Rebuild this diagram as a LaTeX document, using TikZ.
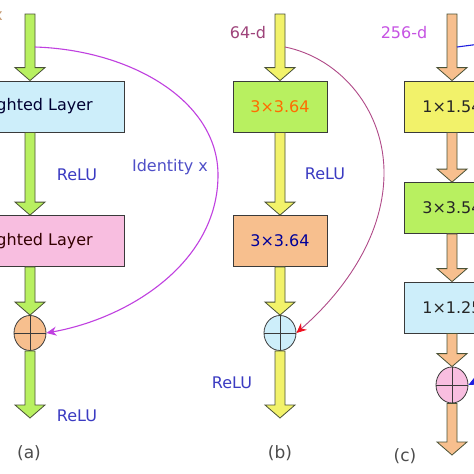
\documentclass[tikz,border=0pt]{standalone}
\usepackage{fontspec}
\setmainfont{DejaVu Sans}
\usetikzlibrary{calc,shapes.geometric,arrows.meta}
\definecolor{lgreen}{HTML}{B8F060}
\definecolor{lyellow}{HTML}{F2F26A}
\definecolor{peach}{HTML}{F7BF8E}
\definecolor{lblue}{HTML}{CDEEFA}
\definecolor{lpink}{HTML}{F8BEE0}
\definecolor{relublue}{HTML}{3B3BC2}
\definecolor{boxedge}{HTML}{3A3A3A}
\definecolor{arredge}{HTML}{4A5236}
\definecolor{curvea}{HTML}{C040E0}
\definecolor{curveb}{HTML}{B04A88}
\definecolor{arrowred}{HTML}{F01020}
\definecolor{curvec}{HTML}{2020E0}
\tikzset{
  x=1pt, y=-1pt,
  txt/.style={font=\fontsize{16}{19}\selectfont, inner sep=0pt},
  box/.style={draw=boxedge, line width=0.8pt, minimum height=51pt, inner sep=0pt, font=\fontsize{16}{19}\selectfont},
  sumnode/.style={ellipse, draw=boxedge, line width=0.8pt, minimum width=32pt, minimum height=35pt, inner sep=0pt,
    path picture={\draw[boxedge, line width=0.8pt] (path picture bounding box.north) -- (path picture bounding box.south)
      (path picture bounding box.west) -- (path picture bounding box.east);}},
  relu/.style={txt, text=relublue},
  caption/.style={font=\fontsize{17}{20}\selectfont, inner sep=0pt, text=black!70},
  arrowstyle/.style={draw=arredge, line width=0.8pt},
  skipa/.style={draw=curvea, line width=1.1pt, -{Stealth[length=10pt,width=9pt]}},
  skipb/.style={draw=curveb, line width=0.9pt, -{Stealth[length=10pt,width=9pt,fill=arrowred,color=arrowred]}},
  skipc/.style={draw=curvec, line width=1.1pt},
}
\newcommand\blockarrow[3]{%
  \path[arrowstyle, fill=#1] let \p1=(#2), \p2=(#3) in
    ({\x1-5pt},\y1) -- ({\x1+5pt},\y1) -- ({\x1+5pt},{\y2+13pt}) -- ({\x1+15pt},{\y2+13pt})
    -- (\x1,\y2) -- ({\x1-15pt},{\y2+13pt}) -- ({\x1-5pt},{\y2+13pt}) -- cycle;}
\begin{document}
\begin{tikzpicture}
\useasboundingbox (0,0) rectangle (474,474);
\clip (0,0) rectangle (474,474);
\fill[white] (0,0) rectangle (474,474);

% ---------- panel (a)
\coordinate (a0) at (30,14);
\coordinate (aend) at (30,418);
\coordinate (askip) at (35,47);
\node[box, fill=lblue, minimum width=188pt, text=black!80!blue] (a1) at (30,106.5) {Weighted Layer};
\node[box, fill=lpink, minimum width=188pt, text=black!80!red] (a2) at (30,241) {Weighted Layer};
\node[sumnode, fill=peach] (as) at (30,333) {};
\blockarrow{lgreen}{a0}{a1.north}
\blockarrow{lgreen}{a1.south}{a2.north}
\blockarrow{lgreen}{a2.south}{as.north}
\blockarrow{lgreen}{as.south}{aend}
\node[txt, text=peach!80!black, anchor=east] (xfrag) at (3,16) {x};
\node[relu] (ar1) at (77,175) {ReLU};
\node[relu] (ar2) at (77,416) {ReLU};
\node[txt, text=relublue!90] (aid) at (170,167) {Identity x};
\node[caption] (ac) at (29,453) {(a)};
\draw[skipa] (askip) .. controls (130,50) and (218,100) .. (218,175)
  .. controls (218,262) and (130,318) .. (as.east);

% ---------- panel (b)
\coordinate (b0) at (280,14);
\coordinate (bend) at (280,418);
\coordinate (bskip) at (285,47);
\node[box, fill=lgreen, minimum width=94pt, text=orange!85!red] (b1) at (280,106.5) {3×3.64};
\node[box, fill=peach, minimum width=94pt, text=blue!60!black] (b2) at (280,241) {3×3.64};
\node[sumnode, fill=lblue] (bs) at (280,333) {};
\blockarrow{lyellow}{b0}{b1.north}
\blockarrow{lyellow}{b1.south}{b2.north}
\blockarrow{lyellow}{b2.south}{bs.north}
\blockarrow{lyellow}{bs.south}{bend}
\node[txt, text=curveb!90!black] (bd) at (248,33) {64-d};
\node[relu] (br1) at (325,174) {ReLU};
\node[relu] (br2) at (232,383) {ReLU};
\node[caption] (bc) at (280,453) {(b)};
\draw[skipb] (bskip) .. controls (340,58) and (385,110) .. (384,175)
  .. controls (383,240) and (340,295) .. (bs.east);

% ---------- panel (c)
\coordinate (c0) at (452,14);
\coordinate (cend) at (452,455);
\coordinate (cskip) at (457,47);
\coordinate (cout) at (480,44);
\coordinate (cin) at (482,378);
\node[box, fill=lyellow, minimum width=96pt, text=black!85] (c1) at (452,106.5) {1×1.54};
\node[box, fill=lgreen, minimum width=96pt, text=black!85] (c2) at (452,208) {3×3.54};
\node[box, fill=lblue, minimum width=96pt, text=black!85] (c3) at (452,307.5) {1×1.25};
\node[sumnode, fill=lpink, minimum height=36pt] (cs) at (452,385) {};
\blockarrow{peach}{c0}{c1.north}
\blockarrow{peach}{c1.south}{c2.north}
\blockarrow{peach}{c2.south}{c3.north}
\blockarrow{peach}{c3.south}{cs.north}
\blockarrow{peach}{cs.south}{cend}
\node[txt, text=curvea!90] (cd) at (404,33) {256-d};
\node[caption] (cc) at (405,456) {(c)};
\draw[skipc] (cskip) -- (cout);
\draw[skipc, -{Stealth[length=10pt,width=9pt]}] (cin) -- (cs.east);
\end{tikzpicture}
\end{document}
